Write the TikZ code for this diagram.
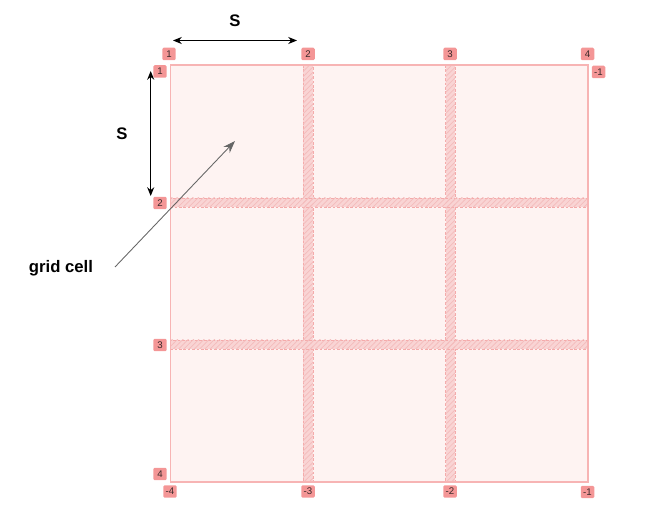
\documentclass[tikz,border=0pt]{standalone}
\usepackage{fontspec}
\newfontfamily\arialfont{Liberation Sans}
\usetikzlibrary{positioning,arrows.meta,patterns}

\definecolor{cellfill}{HTML}{FEF3F2}
\definecolor{celledge}{HTML}{F7B4B4}
\definecolor{bandfill}{HTML}{F9D4D4}
\definecolor{bandedge}{HTML}{F5AAAA}
\definecolor{hatchline}{HTML}{F4BCBC}
\definecolor{tagfill}{HTML}{F49696}
\definecolor{tagtext}{HTML}{3A2A2A}

\tikzset{
  tag/.style={rectangle, fill=tagfill, draw=none, rounded corners=0.8pt,
    minimum width=0.27cm, minimum height=0.25cm, inner sep=0pt,
    text=tagtext, font=\arialfont\fontsize{5.5}{6}\selectfont},
  band/.style={fill=bandfill, draw=bandedge, dashed, dash pattern=on 1.5pt off 1pt, line width=0.3pt},
  hatch/.style={pattern=north east lines, pattern color=hatchline},
  dimarrow/.style={{Stealth[length=5pt,width=4pt]}-{Stealth[length=5pt,width=4pt]}, line width=0.6pt},
  bold label/.style={font=\arialfont\bfseries\fontsize{9.5}{11}\selectfont}
}

\begin{document}
\begin{tikzpicture}[x=0.02cm,y=-0.02cm]
  \useasboundingbox (0,0) rectangle (650,517);

  % Grid area
  \fill[cellfill] (170.5,65) rectangle (588,482);

  % Bands between cells
  \draw[band] (303,65) rectangle (313,482);
  \draw[band] (445.5,65) rectangle (455,482);
  \draw[band] (170.5,198) rectangle (588,207);
  \draw[band] (170.5,340) rectangle (588,349);
  \fill[hatch] (303,65) rectangle (313,482);
  \fill[hatch] (445.5,65) rectangle (455,482);
  \fill[hatch] (170.5,198) rectangle (588,207);
  \fill[hatch] (170.5,340) rectangle (588,349);

  % Outer border
  \draw[celledge, line width=0.6pt] (170.5,65) rectangle (588,482);

  % Column tags on top
  \node[tag] (t1) at (169,54) {1};
  \node[tag] (t2) at (308,54) {2};
  \node[tag] (t3) at (450,54) {3};
  \node[tag] (t4) at (587.5,54) {4};

  % Row tags on the left
  \node[tag] (l1) at (160,71.5) {1};
  \node[tag] (l2) at (160,203) {2};
  \node[tag] (l3) at (160,345) {3};
  \node[tag] (l4) at (160,474) {4};

  % Tags with negative indices
  \node[tag] (r1) at (598.5,72) {-1};
  \node[tag] (b4) at (170,491.5) {-4};
  \node[tag] (b3) at (308,491.5) {-3};
  \node[tag] (b2) at (450,491.5) {-2};
  \node[tag] (b1) at (587.5,492) {-1};

  % Cell size arrows
  \coordinate (sxa) at (173,40.5);
  \coordinate (sxb) at (297,40.5);
  \coordinate (sya) at (150.7,71);
  \coordinate (syb) at (150.7,196);
  \draw[dimarrow] (sxa) -- (sxb);
  \draw[dimarrow] (sya) -- (syb);
  \node[bold label] (stop) at (235,21) {S};
  \node[bold label] (sleft) at (122,134) {S};

  % Pointer to one grid cell
  \node[bold label] (gridcell) at (61,268) {grid cell};
  \coordinate (cellpt) at (235,141);
  \draw[-{Stealth[length=7pt,width=5pt]}, gray!80!black, line width=0.5pt]
    (115,267) -- (cellpt);
\end{tikzpicture}
\end{document}
